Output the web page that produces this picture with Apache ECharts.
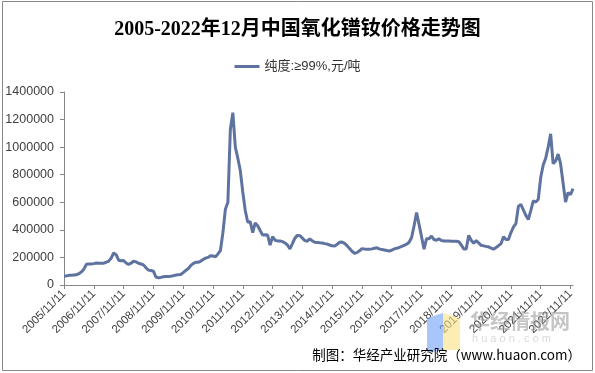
<!DOCTYPE html>
<html>
<head>
<meta charset="utf-8">
<script src="https://cdn.jsdelivr.net/npm/echarts@6/dist/echarts.min.js"></script>
<style>
html,body{margin:0;padding:0;background:#fff;}
#c{width:595px;height:373px;}
</style>
</head>
<body>
<div id="c"></div>
<script>
// Monthly sampled price, 纯度:≥99%, 元/吨, starting 2005/11/11
var startYear = 2005, startMonth = 11;
var p2005_2006 = [65000,66000,70000,70000,72000,74000,82000,95000,115000,150000,152000,152000];
var p2006_2007 = [155000,160000,158000,157000,158000,165000,173000,195000,232000,220000,180000,176000];
var p2007_2008 = [178000,160000,150000,158000,172000,168000,158000,152000,146000,125000,108000,105000];
var p2008_2009 = [100000,58000,53000,55000,60000,62000,62000,63000,67000,72000,74000,76000];
var p2009_2010 = [90000,105000,118000,140000,155000,165000,165000,172000,185000,195000,200000,212000];
var p2010_2011 = [210000,205000,225000,250000,380000,550000,600000,1130000,1250000,1000000,920000,830000];
var p2011_2012 = [675000,540000,455000,460000,380000,450000,430000,395000,362000,365000,362000,290000];
var p2012_2013 = [350000,325000,320000,320000,315000,305000,290000,262000,300000,340000,360000,358000];
var p2013_2014 = [340000,322000,318000,335000,320000,310000,308000,306000,305000,300000,297000,290000];
var p2014_2015 = [284000,282000,295000,310000,312000,302000,285000,265000,245000,230000,235000,248000];
var p2015_2016 = [264000,261000,260000,260000,262000,266000,270000,262000,257000,254000,250000,247000];
var p2016_2017 = [252000,262000,266000,272000,280000,288000,296000,310000,345000,430000,525000,440000];
var p2017_2018 = [350000,260000,335000,335000,355000,330000,325000,335000,322000,320000,320000,320000];
var p2018_2019 = [318000,318000,318000,314000,290000,262000,262000,360000,325000,303000,322000,305000];
var p2019_2020 = [288000,284000,280000,277000,268000,260000,272000,285000,300000,349000,330000,330000];
var p2020_2021 = [380000,420000,445000,570000,585000,545000,505000,475000,540000,610000,602000,620000];
var p2021_2022 = [780000,870000,920000,1000000,1097000,880000,900000,950000,880000,740000,602000,670000];
var p2022_end  = [655000,699000];

var yTicks = [0,200000,400000,600000,800000,1000000,1200000,1400000];

var prices = [].concat(p2005_2006,p2006_2007,p2007_2008,p2008_2009,p2009_2010,p2010_2011,
  p2011_2012,p2012_2013,p2013_2014,p2014_2015,p2015_2016,p2016_2017,p2017_2018,p2018_2019,
  p2019_2020,p2020_2021,p2021_2022,p2022_end);

var categories = [];
(function(){
  var y = startYear, m = startMonth;
  for (var i = 0; i < prices.length; i++) {
    categories.push(y + '/' + m + '/11');
    m++; if (m > 12) { m = 1; y++; }
  }
})();

var chart = echarts.init(document.getElementById('c'), null, {renderer:'canvas'});
var axisColor = '#868686';
chart.setOption({
  animation: false,
  backgroundColor: '#ffffff',
  title: {
    text: '2005-2022年12月中国氧化镨钕价格走势图',
    left: 'center', top: 15,
    textStyle: {fontFamily: '"Liberation Serif","Noto Sans CJK SC",serif', fontSize: 20, fontWeight: 'bold', color: '#000'}
  },
  legend: {
    top: 55, left: 'center',
    icon: 'rect',
    itemWidth: 25, itemHeight: 3, itemGap: 4,
    textStyle: {fontFamily: '"Liberation Sans","Noto Sans CJK SC",sans-serif', fontSize: 13, color: '#333'},
    data: ['纯度:≥99%,元/吨']
  },
  grid: {left: 64, right: 22, top: 92, bottom: 88, containLabel: false},
  xAxis: {
    type: 'category',
    data: categories,
    boundaryGap: false,
    axisLine: {lineStyle: {color: axisColor, width: 1}},
    axisTick: {show: true, interval: 11, length: 4, lineStyle: {color: axisColor}},
    axisLabel: {
      interval: 11, rotate: 45, margin: 7,
      fontFamily: '"Liberation Sans",Arial,sans-serif', fontSize: 11.5, color: '#404040'
    },
    splitLine: {show: false}
  },
  yAxis: {
    type: 'value',
    min: yTicks[0], max: yTicks[yTicks.length-1], interval: 200000,
    axisLine: {show: true, lineStyle: {color: axisColor, width: 1}},
    axisTick: {show: true, length: 4, lineStyle: {color: axisColor}},
    axisLabel: {margin: 10, formatter: function(v){ return String(v); },
      fontFamily: '"Liberation Sans",Arial,sans-serif', fontSize: 12.5, color: '#404040'},
    splitLine: {show: false}
  },
  series: [{
    name: '纯度:≥99%,元/吨',
    type: 'line',
    data: prices,
    symbol: 'none',
    smooth: false,
    lineStyle: {color: '#5f73a0', width: 3},
    itemStyle: {color: '#5f73a0'}
  }],
  graphic: [
    {type: 'rect', shape: {x: 2.5, y: 1.5, width: 590, height: 369}, style: {fill: 'none', stroke: '#888', lineWidth: 1}, silent: true, z: 100},
    {type: 'polygon', shape: {points: [[427,318],[443,313],[443,350],[427,353]]}, style: {fill: 'rgba(110,160,245,0.6)'}, silent: true, z: 50},
    {type: 'polygon', shape: {points: [[443,313],[460,318],[460,350],[443,350]]}, style: {fill: 'rgba(250,225,130,0.6)'}, silent: true, z: 50},
    {type: 'text', left: 470, top: 311, style: {text: '华经情报网', font: 'bold 20px "Noto Sans CJK SC",sans-serif', fill: 'rgba(150,150,150,0.55)'}, silent: true, z: 50},
    {type: 'text', left: 472, top: 333, style: {text: 'h u a o n . c o m', font: '11px "Liberation Sans",sans-serif', fill: 'rgba(170,170,170,0.45)'}, silent: true, z: 50},
    {type: 'text', right: 14, top: 348, style: {text: '制图：华经产业研究院（www.huaon.com）', font: '13.5px "Noto Sans CJK SC","Liberation Sans",sans-serif', fill: '#000'}, silent: true, z: 60}
  ]
});
</script>
</body>
</html>
